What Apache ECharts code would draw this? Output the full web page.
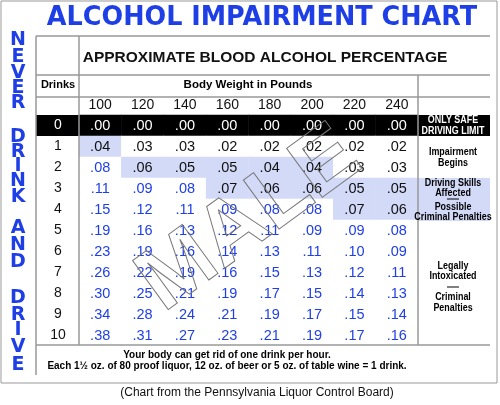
<!DOCTYPE html>
<html><head><meta charset="utf-8">
<script src="https://cdn.jsdelivr.net/npm/echarts@6/dist/echarts.min.js"></script>
<style>html,body{margin:0;padding:0;background:#fff}#c{width:500px;height:405px}</style>
</head><body><div id="c"></div>
<script>
const weights = ['100','120','140','160','180','200','220','240'];
const drinks = ['0','1','2','3','4','5','6','7','8','9','10'];
const bac0 = [0,0,0,0,0,0,0,0];
const bac1 = [.04,.03,.03,.02,.02,.02,.02,.02];
const bac2 = [.08,.06,.05,.05,.04,.04,.03,.03];
const bac3 = [.11,.09,.08,.07,.06,.06,.05,.05];
const bac4 = [.15,.12,.11,.09,.08,.08,.07,.06];
const bac5 = [.19,.16,.13,.12,.11,.09,.09,.08];
const bac6 = [.23,.19,.16,.14,.13,.11,.10,.09];
const bac7 = [.26,.22,.19,.16,.15,.13,.12,.11];
const bac8 = [.30,.25,.21,.19,.17,.15,.14,.13];
const bac9 = [.34,.28,.24,.21,.19,.17,.15,.14];
const bac10 = [.38,.31,.27,.23,.21,.19,.17,.16];
const shaded = {1:[0],2:[1,2,3,4,5],3:[3,4,5,6,7],4:[6,7]};
const rows = [bac0,bac1,bac2,bac3,bac4,bac5,bac6,bac7,bac8,bac9,bac10];

const BLUE='#1f3fe6', SHADE='#d3daf8';
const data=[];
rows.forEach((r,y)=>r.forEach((v,x)=>{
  const sh = shaded[y] && shaded[y].includes(x);
  data.push({value:[x,y,v],
    itemStyle:{color: y===0?'#000':(sh?SHADE:'#fff')},
    label:{color: y===0?'#fff':(v>=0.08?BLUE:'#111')}});
}));

const g=[];
const line=(x1,y1,x2,y2,c,w)=>g.push({type:'line',shape:{x1,y1,x2,y2},style:{stroke:c||'#999',lineWidth:w||1.5},z:10});
const txt=(x,y,t,f,c,extra)=>g.push(Object.assign({type:'text',x,y,style:{text:t,font:f,fill:c||'#000',align:'center',verticalAlign:'middle'},z:20},extra||{}));
g.push({type:'rect',shape:{x:1,y:1,width:496,height:382},style:{fill:'none',stroke:'#999',lineWidth:1}});
g.push({type:'rect',shape:{x:36,y:115,width:43,height:21},style:{fill:'#000'},z:-10});
g.push({type:'rect',shape:{x:418,y:115,width:72,height:21},style:{fill:'#000'},z:5});
g.push({type:'rect',shape:{x:418,y:178,width:72,height:43},style:{fill:SHADE},z:5});
line(36,36,490,36); line(36,75,490,75); line(36,97,490,97);
line(36,345,490,345); line(36,36,36,375); line(79,36,79,345); line(418,75,418,345);
txt(262,18,'ALCOHOL IMPAIRMENT CHART','900 26px "DejaVu Sans", sans-serif',BLUE,{scaleX:0.98});
txt(265,58,'APPROXIMATE BLOOD ALCOHOL PERCENTAGE','bold 15.5px "Liberation Sans", Arial',"#111");
txt(58,85,'Drinks','bold 11px "Liberation Sans", Arial');
txt(248,85,'Body Weight in Pounds','bold 11.5px "Liberation Sans", Arial');
const nf='bold 10.5px "Liberation Sans", Arial';
const nt=(x,y,t,c)=>txt(x,y,t,nf,c,{scaleX:0.85});
nt(453,120,'ONLY SAFE','#fff'); nt(453,131,'DRIVING LIMIT','#fff');
nt(453,152,'Impairment'); nt(453,163,'Begins');
nt(453,183,'Driving Skills'); nt(453,193,'Affected');
line(447,199,459,199,'#000',1);
nt(453,207,'Possible'); nt(453,217,'Criminal Penalties');
nt(453,266,'Legally'); nt(453,276,'Intoxicated');
line(447,287,459,287,'#000',1);
nt(453,297,'Criminal'); nt(453,308,'Penalties');
const bf='bold 10px "Liberation Sans", Arial';
txt(227,355,'Your body can get rid of one drink per hour.',bf);
txt(227,366,'Each 1½ oz. of 80 proof liquor, 12 oz. of beer or 5 oz. of table wine = 1 drink.',bf);
txt(257,393,'(Chart from the Pennsylvania Liquor Control Board)','12px "Liberation Sans", Arial','#111');
const vert=[['N',40],['E',57],['V',73],['E',88],['R',103],['D',137],['R',152],['I',166],['N',181],['K',197],['A',228],['N',245],['D',262],['D',298],['R',315],['I',330],['V',347],['E',365]];
vert.forEach(([l,y])=>txt(18,y,l,'900 19px "DejaVu Sans", sans-serif',BLUE));
g.push({type:'text',x:250,y:220,rotation:0.63,style:{text:'MALE',font:'bold 88px "Liberation Sans", Arial',fill:'rgba(255,255,255,0)',stroke:'#777',lineWidth:1,align:'center',verticalAlign:'middle'},z:30});

const chart=echarts.init(document.getElementById('c'));
chart.setOption({
  animation:false,
  grid:{left:79,right:82,top:115,height:231},
  xAxis:{type:'category',data:weights,position:'top',axisLine:{show:false},axisTick:{show:false},
    axisLabel:{margin:3,fontSize:14,color:'#111',fontFamily:'Liberation Sans'},splitLine:{show:false}},
  yAxis:{type:'category',data:drinks,inverse:true,z:50,axisLine:{show:false},axisTick:{show:false},
    axisLabel:{margin:21,align:'center',fontSize:14,fontFamily:'Liberation Sans',color:(v)=>v==='0'?'#fff':'#111'}},
  series:[{type:'heatmap',data,itemStyle:{borderWidth:0},
    label:{show:true,fontSize:14.5,fontFamily:'Liberation Sans',formatter:p=>p.value[2].toFixed(2).replace(/^0/,'')}}],
  graphic:g
});
</script></body></html>
